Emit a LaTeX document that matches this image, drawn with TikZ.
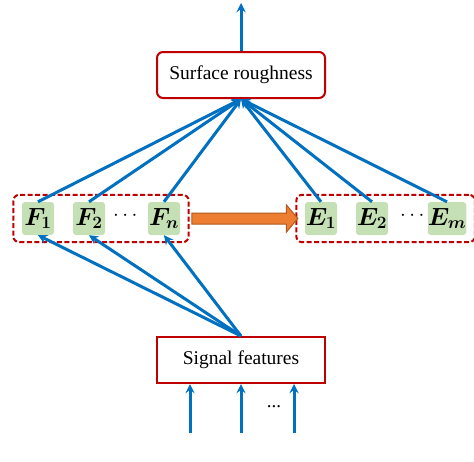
\documentclass[tikz,border=0pt]{standalone}
\usepackage{amsmath, amssymb, bm}
\usepackage{fontspec}
\setmainfont{Liberation Serif}
\usetikzlibrary{arrows, shapes, shapes.arrows, fit, calc}
\definecolor{lineblue}{HTML}{0070C0}
\definecolor{boxred}{HTML}{C00000}
\definecolor{featgreen}{HTML}{C5E0B4}
\definecolor{arroworange}{HTML}{ED7D31}
\definecolor{arrowedge}{HTML}{AE5A21}
\tikzstyle{block} = [rectangle, minimum width=168, minimum height=46, draw=boxred, line width=2pt, text centered, font=\fontsize{19.5}{22}\selectfont]
\tikzstyle{feat} = [rectangle, rounded corners=3, minimum width=32, minimum height=33, fill=featgreen, inner sep=0, font=\fontsize{23}{26}\selectfont]
\tikzstyle{group} = [draw=boxred, dash pattern=on 5pt off 2.5pt, line width=2pt, rounded corners=6, inner xsep=8.5, inner ysep=7]
\tikzstyle{link} = [lineblue, line width=3pt, ->, >=stealth]

\begin{document}
\begin{tikzpicture}[x=1pt, y=-1pt]
\useasboundingbox (0,0) rectangle (474,461);

\node at (241,75) (rough) [block, rounded corners=6] {Surface roughness};
\node at (241,360) (signal) [block] {Signal features};

\node at (38,218.5) (f1) [feat] {$\bm{F_1}$};
\node at (89,218.5) (f2) [feat] {$\bm{F_2}$};
\node at (127,216) (fdots) {\fontsize{20}{24}\selectfont$\cdots$};
\node at (164,218.5) (fn) [feat] {$\bm{F_n}$};

\node at (321,218.5) (e1) [feat] {$\bm{E_1}$};
\node at (372,218.5) (e2) [feat] {$\bm{E_2}$};
\node at (414,216) (edots) {\fontsize{20}{24}\selectfont$\cdots$};
\node at (447,218.5) (em) [feat] {$\bm{E_m}$};

\node (fgroup) [group, fit=(f1) (fn)] {};
\node (egroup) [group, fit=(e1) (em)] {};

\node at ($(fgroup.east)!0.5!(egroup.west)$) (map) [single arrow, fill=arroworange, draw=arrowedge, line width=1pt,
  minimum height=106pt, single arrow head extend=8pt, single arrow tip angle=100, inner xsep=0pt, inner ysep=5pt] {};

\coordinate (out) at (241,3);
\draw[link] (rough.north) -- (out);

\foreach \n in {f1, f2, fn, e1, e2, em}
  \draw[link] (\n.north) -- (rough.south);

\foreach \n in {f1, f2, fn}
  \draw[link] (signal.north) -- (\n.south);

\coordinate (in1) at (190,433);
\coordinate (in2) at (241,433);
\coordinate (in3) at (294,433);
\foreach \n in {in1, in2, in3}
  \draw[link] (\n) -- (\n |- signal.south);
\node at (274,407) (indots) {\fontsize{19}{22}\selectfont ...};

\end{tikzpicture}
\end{document}
